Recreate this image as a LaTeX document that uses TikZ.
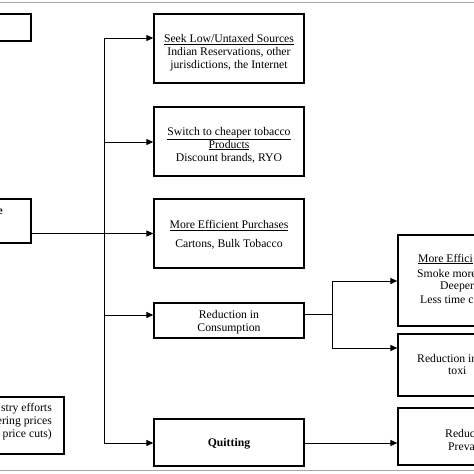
\documentclass[tikz,border=0pt]{standalone}
\usepackage{fontspec}
\setmainfont{Liberation Serif}
\usetikzlibrary{arrows.meta}
\begin{document}
\begin{tikzpicture}[x=1pt,y=-1pt,
  box/.style={draw=black, line width=1.3pt, minimum width=150pt, inner sep=0pt},
  txt/.style={font=\fontsize{11.7}{13}\selectfont, align=center, inner sep=0pt},
  arr/.style={line width=1pt, -{Triangle[length=7pt,width=6pt]}},
  ln/.style={line width=1pt},
  frame/.style={draw=gray!70, line width=1pt}]
\useasboundingbox (0,0) rectangle (474,474);
\clip (0,0) rectangle (474,474);
\fill[white] (0,0) rectangle (474,474);
% frame lines
\draw[frame] (0,2.5) -- (474,2.5);
\draw[frame] (0,470.5) -- (474,470.5);
% left boxes
\node[box, minimum width=91pt, minimum height=27pt] (tl) at (-14.5,27.5) {};
\node[box, minimum width=91pt, minimum height=44pt] (lm) at (-14.5,221) {};
\node[txt, anchor=west, font=\fontsize{11.7}{13}\selectfont\bfseries] (lmt) at (-2.5,212) {e};
\node[box, minimum width=104pt, minimum height=57pt] (lb) at (12,425.5) {};
\node[txt, anchor=east, align=right] (lbt) at (52,421.5) {stry efforts\\ering prices\\price cuts)};
% middle boxes
\node[box, minimum height=69pt] (b1) at (229,48.5) {};
\node[txt] (b1t) at (229,53) {\underline{Seek Low/Untaxed Sources}\\Indian Reservations, other\\jurisdictions, the Internet};
\node[box, minimum height=69pt] (b2) at (229,141.5) {};
\node[txt] (b2t) at (229,145) {\underline{Switch to cheaper tobacco}\\\underline{Products}\\Discount brands, RYO};
\node[box, minimum height=69pt] (b3) at (229,233.5) {};
\node[txt] (b3t) at (229,235) {\underline{More Efficient Purchases}\\[6pt]Cartons, Bulk Tobacco};
\node[box, minimum height=35pt] (b4) at (229,320.5) {};
\node[txt] (b4t) at (229,322) {Reduction in\\Consumption};
\node[box, minimum height=47pt] (b5) at (229,442.5) {};
\node[txt, font=\fontsize{11.7}{13}\selectfont\bfseries] (b5t) at (229,444) {Quitting};
% right boxes
\node[box, minimum width=132pt, minimum height=91pt] (r1) at (464,280.5) {};
\node[txt, anchor=west] (r1a) at (418,259) {\underline{More Effici}};
\node[txt, anchor=west] (r1b) at (417,273) {Smoke more};
\node[txt, anchor=west] (r1c) at (440,287) {Deeper};
\node[txt, anchor=west] (r1d) at (420,300) {Less time c};
\node[box, minimum width=132pt, minimum height=62pt] (r2) at (464,365) {};
\node[txt, anchor=west] (r2a) at (417,358) {Reduction in};
\node[txt, anchor=west] (r2b) at (448,371) {toxi};
\node[box, minimum width=132pt, minimum height=57pt] (r3) at (464,436.5) {};
\node[txt, anchor=west] (r3a) at (445,433) {Reduc};
\node[txt, anchor=west] (r3b) at (448,447) {Preva};
% trunk
\coordinate (t1) at (104,38);
\coordinate (t2) at (104,142);
\coordinate (t4) at (104,315);
\coordinate (t5) at (104,443);
\draw[ln] (t1) -- (t5);
\draw[arr] (t1) -- (t1 -| b1.west);
\draw[arr] (t2) -- (t2 -| b2.west);
\draw[arr] (lm.east |- b3.west) -- (b3.west);
\draw[arr] (t4) -- (t4 -| b4.west);
\draw[arr] (t5) -- (t5 -| b5.west);
% right branch
\coordinate (j) at (332,314);
\coordinate (j1) at (332,281);
\coordinate (j2) at (332,348);
\draw[ln] (b4.east |- j) -- (j);
\draw[ln] (j1) -- (j2);
\draw[arr] (j1) -- (j1 -| r1.west);
\draw[arr] (j2) -- (j2 -| r2.west);
\draw[arr] (b5.east |- t5) -- (t5 -| r3.west);
\end{tikzpicture}
\end{document}
